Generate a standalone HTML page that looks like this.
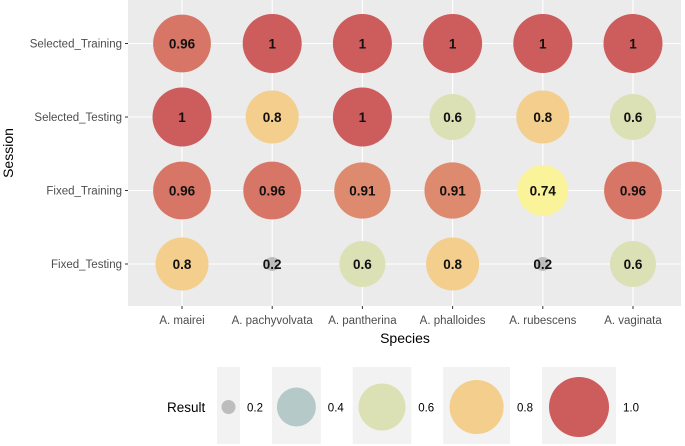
<!DOCTYPE html>
<html><head><meta charset="utf-8"><style>
body{margin:0;background:#fff;}
svg{display:block;font-family:"Liberation Sans",Arial,sans-serif;}
</style></head><body>
<svg id="chart" width="685" height="446">
<rect x="128" y="0" width="553" height="306" fill="#ebebeb"/>
<g id="grid"></g><g id="marks"></g><g id="axes"></g><g id="legend"></g>
<text x="405" y="343" text-anchor="middle" font-size="14" fill="#000">Species</text>
<text transform="translate(13,153) rotate(-90)" text-anchor="middle" font-size="14" fill="#000">Session</text>
</svg>
<script>
const species=["A. mairei","A. pachyvolvata","A. pantherina","A. phalloides","A. rubescens","A. vaginata"];
const sessions=["Selected_Training","Selected_Testing","Fixed_Training","Fixed_Testing"];
const valSelTrain=[0.96,1,1,1,1,1];
const valSelTest=[1,0.8,1,0.6,0.8,0.6];
const valFixTrain=[0.96,0.96,0.91,0.91,0.74,0.96];
const valFixTest=[0.8,0.2,0.6,0.8,0.2,0.6];
const labSelTrain=["0.96","1","1","1","1","1"];
const labSelTest=["1","0.8","1","0.6","0.8","0.6"];
const labFixTrain=["0.96","0.96","0.91","0.91","0.74","0.96"];
const labFixTest=["0.8","0.2","0.6","0.8","0.2","0.6"];
const legendVals=[0.2,0.4,0.6,0.8,1.0];
const legendLabels=["0.2","0.4","0.6","0.8","1.0"];
const rows=[valSelTrain,valSelTest,valFixTrain,valFixTest];
const labs=[labSelTrain,labSelTest,labFixTrain,labFixTest];
const NS="http://www.w3.org/2000/svg";
const xS=i=>182+i*90.2;
const yS=j=>43.5+j*73.5;
const rStops=[[0.2,7],[0.4,19],[0.6,23],[0.8,26.5],[1,29.5]];
function rS(v){for(let k=0;k<rStops.length-1;k++){const[a,ra]=rStops[k],[b,rb]=rStops[k+1];if(v<=b){return ra+(rb-ra)*(v-a)/(b-a);}}return 29.5;}
const stops=[[0.2,[189,189,189]],[0.4,[181,201,200]],[0.6,[219,225,181]],[0.74,[251,243,154]],[0.8,[243,206,140]],[0.91,[222,138,110]],[0.96,[215,118,102]],[1,[205,92,92]]];
function col(v){for(let k=0;k<stops.length-1;k++){const[a,ca]=stops[k],[b,cb]=stops[k+1];if(v<=b){const t=(v-a)/(b-a);return`rgb(${ca.map((c,i)=>Math.round(c+(cb[i]-c)*t)).join(',')})`;}}return'rgb(205,92,92)';}
function mk(tag,at,p){const e=document.createElementNS(NS,tag);for(const k in at)e.setAttribute(k,at[k]);p.appendChild(e);return e;}
const grid=document.getElementById('grid'),marks=document.getElementById('marks'),axes=document.getElementById('axes'),leg=document.getElementById('legend');
species.forEach((s,i)=>{
 const l=mk('line',{x1:xS(i),x2:xS(i),y1:0,y2:306,stroke:'#fff','stroke-width':1.1},grid);
 
 const t=mk('line',{x1:xS(i),x2:xS(i),y1:306,y2:309,stroke:'#333'},axes);
 
 const tx=mk('text',{x:xS(i),y:324,'text-anchor':'middle','font-size':11.5,fill:'#4d4d4d'},axes);tx.textContent=s;
 
});
sessions.forEach((s,j)=>{
 const l=mk('line',{x1:128,x2:681,y1:yS(j),y2:yS(j),stroke:'#fff','stroke-width':1.1},grid);
 
 const t=mk('line',{x1:125,x2:128,y1:yS(j),y2:yS(j),stroke:'#333'},axes);
 
 const tx=mk('text',{x:122,y:yS(j)+4,'text-anchor':'end','font-size':11.5,fill:'#4d4d4d'},axes);tx.textContent=s;
 
 rows[j].forEach((v,i)=>{
  const c=mk('circle',{cx:xS(i),cy:yS(j),r:rS(v),fill:col(v)},marks);
  
  const tx2=mk('text',{x:xS(i),y:yS(j)+5,'text-anchor':'middle','font-size':13.5,'font-weight':'bold',fill:'#111'},marks);tx2.textContent=labs[j][i];
  
 });
});
const rt=mk('text',{x:167,y:412,'font-size':13.5,fill:'#000'},leg);rt.textContent='Result';

let lx=217;
legendVals.forEach((v,k)=>{
 const r=rS(v)+(k>0?0.5:0),w=Math.max(23,2.4*r+2);
 const b=mk('rect',{x:lx,y:367,width:w,height:77,fill:'#f2f2f2'},leg);
 
 const c=mk('circle',{cx:lx+w/2,cy:407,r:r,fill:col(v)},leg);
 
 const t=mk('text',{x:lx+w+7,y:411.5,'font-size':11.5,fill:'#000'},leg);t.textContent=legendLabels[k];
 
 lx+=w+32;
});
</script>
</body></html>
